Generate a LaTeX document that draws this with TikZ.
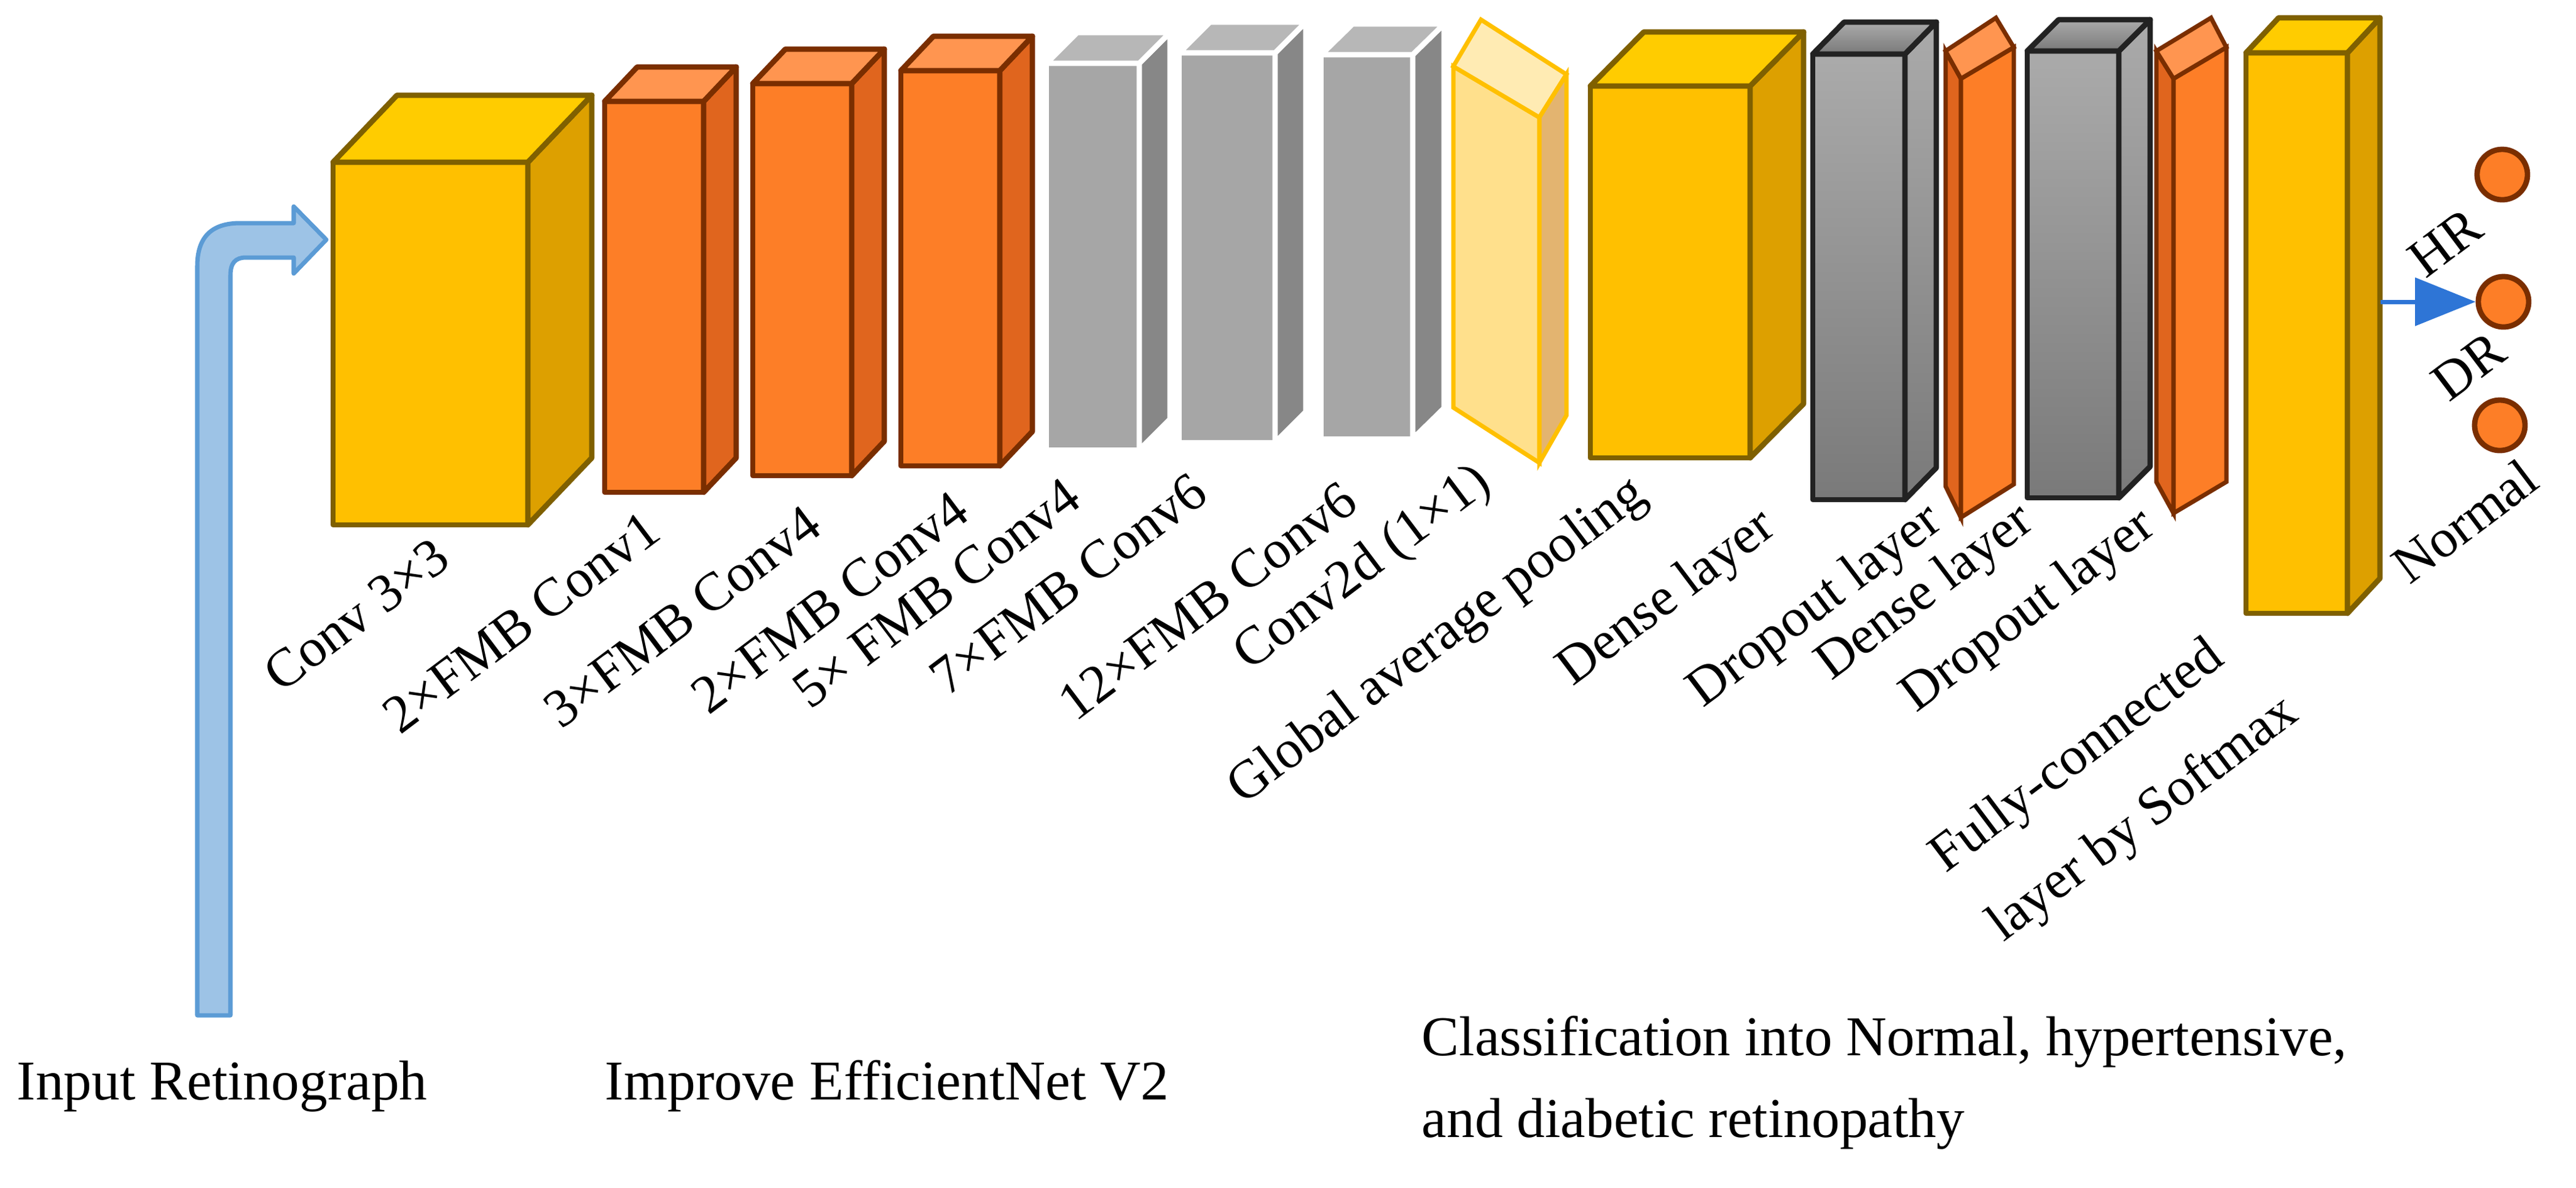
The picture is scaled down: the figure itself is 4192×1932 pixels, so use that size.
\documentclass[tikz,border=0pt]{standalone}
\usepackage{fontspec}
\setmainfont{Liberation Serif}
\usetikzlibrary{arrows.meta,calc}
\definecolor{yF}{HTML}{FFC000}\definecolor{yT}{HTML}{FFCC00}\definecolor{yS}{HTML}{DDA000}\definecolor{yD}{HTML}{7F6000}
\definecolor{oF}{HTML}{FD7E27}\definecolor{oT}{HTML}{FF9550}\definecolor{oS}{HTML}{E0651E}\definecolor{oD}{HTML}{7A2E00}
\definecolor{gF}{HTML}{A6A6A6}\definecolor{gT}{HTML}{B7B7B7}\definecolor{gS}{HTML}{878787}
\definecolor{dT}{HTML}{B0B0B0}\definecolor{dS}{HTML}{6A6A6A}\definecolor{dD}{HTML}{222222}
\definecolor{pF}{HTML}{FFE08C}\definecolor{pT}{HTML}{FFEBB3}\definecolor{pS}{HTML}{E3B470}
\definecolor{bF}{HTML}{9DC3E6}\definecolor{bD}{HTML}{5B9BD5}\definecolor{arr}{HTML}{2E75D6}
\newcommand{\mycube}[9]{% x1 y1 x2 y2 dx dy top side style
  \path[#9] (#1,#2) rectangle (#3,#4);
  \path[#9,fill=#8] (#3,#2) -- ++(#5,#6) -- ($(#3,#4)+(#5,#6)$) -- (#3,#4) -- cycle;
  \path[#9,fill=#7] (#1,#2) -- ++(#5,#6) -- ($(#3,#2)+(#5,#6)$) -- (#3,#2) -- cycle;}
\begin{document}
\begin{tikzpicture}[x=0.01cm,y=-0.01cm,
  lab/.style={font=\fontsize{25}{30}\selectfont,rotate=37,inner sep=0pt},
  btxt/.style={font=\fontsize{26}{30}\selectfont,anchor=base west,inner sep=0pt},
  ycube/.style={draw=yD,line width=2.5pt,fill=yF,line join=round},
  ocube/.style={draw=oD,line width=2.5pt,fill=oF,line join=round},
  gcube/.style={draw=white,line width=2.5pt,fill=gF,line join=round},
  dcube/.style={draw=dD,line width=2.5pt,top color=gF!95!white,bottom color=gS!90!black,line join=round},
  outc/.style={circle,fill=oF,draw=oD,line width=2.5pt,minimum size=0.82cm,inner sep=0pt}]
\useasboundingbox (0,0) rectangle (4192,1932);
% input arrow
\path[fill=bF,draw=bD,line width=2pt,line join=round] (321,1652) -- (321,433) .. controls (321,385) and (345,363) .. (391,363) -- (478,363) -- (478,336) -- (531,390) -- (478,445) -- (478,419) -- (400,419) .. controls (383,419) and (375,428) .. (375,448) -- (375,1652) -- cycle;
% cubes
\mycube{542}{264}{859}{854}{104}{-109}{yT}{yS}{ycube}
\mycube{984}{165}{1145}{801}{53}{-56}{oT}{oS}{ocube}
\mycube{1225}{136}{1386}{774}{53}{-56}{oT}{oS}{ocube}
\mycube{1466}{115}{1627}{758}{53}{-56}{oT}{oS}{ocube}
\mycube{1703}{103}{1854}{732}{50}{-50}{gT}{gS}{gcube}
\mycube{1919}{86}{2075}{720}{50}{-50}{gT}{gS}{gcube}
\mycube{2150}{89}{2299}{714}{51}{-50}{gT}{gS}{gcube}
% GAP slab
\path[draw=yF,line width=2pt,fill=pF] (2365,108) -- (2505,191) -- (2505,753) -- (2365,663) -- cycle;
\path[draw=yF,line width=2pt,fill=pT] (2365,108) -- (2410,32) -- (2549,121) -- (2505,191) -- cycle;
\path[draw=yF,line width=2pt,fill=pS] (2505,191) -- (2549,121) -- (2549,676) -- (2505,753) -- cycle;
\mycube{2588}{140}{2848}{745}{87}{-88}{yT}{yS}{ycube}
\mycube{2950}{88}{3100}{813}{51}{-52}{dT}{dS}{dcube}
% dropout 1
\path[draw=oD,line width=2pt,fill=oS] (3166,83) -- (3191,128) -- (3191,842) -- (3166,791) -- cycle;
\path[draw=oD,line width=2pt,fill=oF] (3191,128) -- (3277,77) -- (3277,788) -- (3191,842) -- cycle;
\path[draw=oD,line width=2pt,fill=oT] (3166,83) -- (3248,29) -- (3277,77) -- (3191,128) -- cycle;
\mycube{3299}{83}{3448}{810}{51}{-51}{dT}{dS}{dcube}
% dropout 2
\path[draw=oD,line width=2pt,fill=oS] (3509,83) -- (3537,128) -- (3537,835) -- (3509,784) -- cycle;
\path[draw=oD,line width=2pt,fill=oF] (3537,128) -- (3623,77) -- (3623,784) -- (3537,835) -- cycle;
\path[draw=oD,line width=2pt,fill=oT] (3509,83) -- (3598,29) -- (3623,77) -- (3537,128) -- cycle;
\mycube{3655}{86}{3820}{998}{53}{-57}{yT}{yS}{ycube}
% outputs
\node[outc] (c1) at (4072,284) {};
\node[outc] (c2) at (4074,491) {};
\node[outc] (c3) at (4068,692) {};
\coordinate (fcout) at (3874,491);
\draw[arr,line width=2pt,-{Triangle[length=28pt,width=22pt]}] (fcout) -- (c2.west);
\node[lab] (lhr) at (3979,395) {HR};
\node[lab] (ldr) at (4017,596) {DR};
\node[lab] (lno) at (4011,848) {Normal};
% layer labels
\node[lab] (l1) at (580,1000) {Conv 3×3};
\node[lab] (l2) at (848,1012) {2×FMB Conv1};
\node[lab] (l3) at (1110,1003) {3×FMB Conv4};
\node[lab] (l4) at (1350,980) {2×FMB Conv4};
\node[lab] (l5) at (1524,965) {5× FMB Conv4};
\node[lab] (l6) at (1738,950) {7×FMB Conv6};
\node[lab] (l7) at (1965,978) {12×FMB Conv6};
\node[lab] (l8) at (2219,926) {Conv2d (1×1)};
\node[lab] (l9) at (2340,1045) {Global average pooling};
\node[lab] (l10) at (2714,975) {Dense layer};
\node[lab] (l11) at (2955,988) {Dropout layer};
\node[lab] (l12) at (3134,966) {Dense layer};
\node[lab] (l13) at (3302,996) {Dropout layer};
\node[lab] (l14) at (3382,1233) {Fully-connected};
\node[lab] (l15) at (3489,1334) {layer by Softmax};
% bottom texts
\node[btxt] (t1) at (27,1789) {Input Retinograph};
\node[btxt] (t2) at (984,1789) {Improve EfficientNet V2};
\node[btxt] (t3) at (2313,1717) {Classification into Normal, hypertensive,};
\node[btxt] (t4) at (2313,1850) {and diabetic retinopathy};
\end{tikzpicture}
\end{document}
